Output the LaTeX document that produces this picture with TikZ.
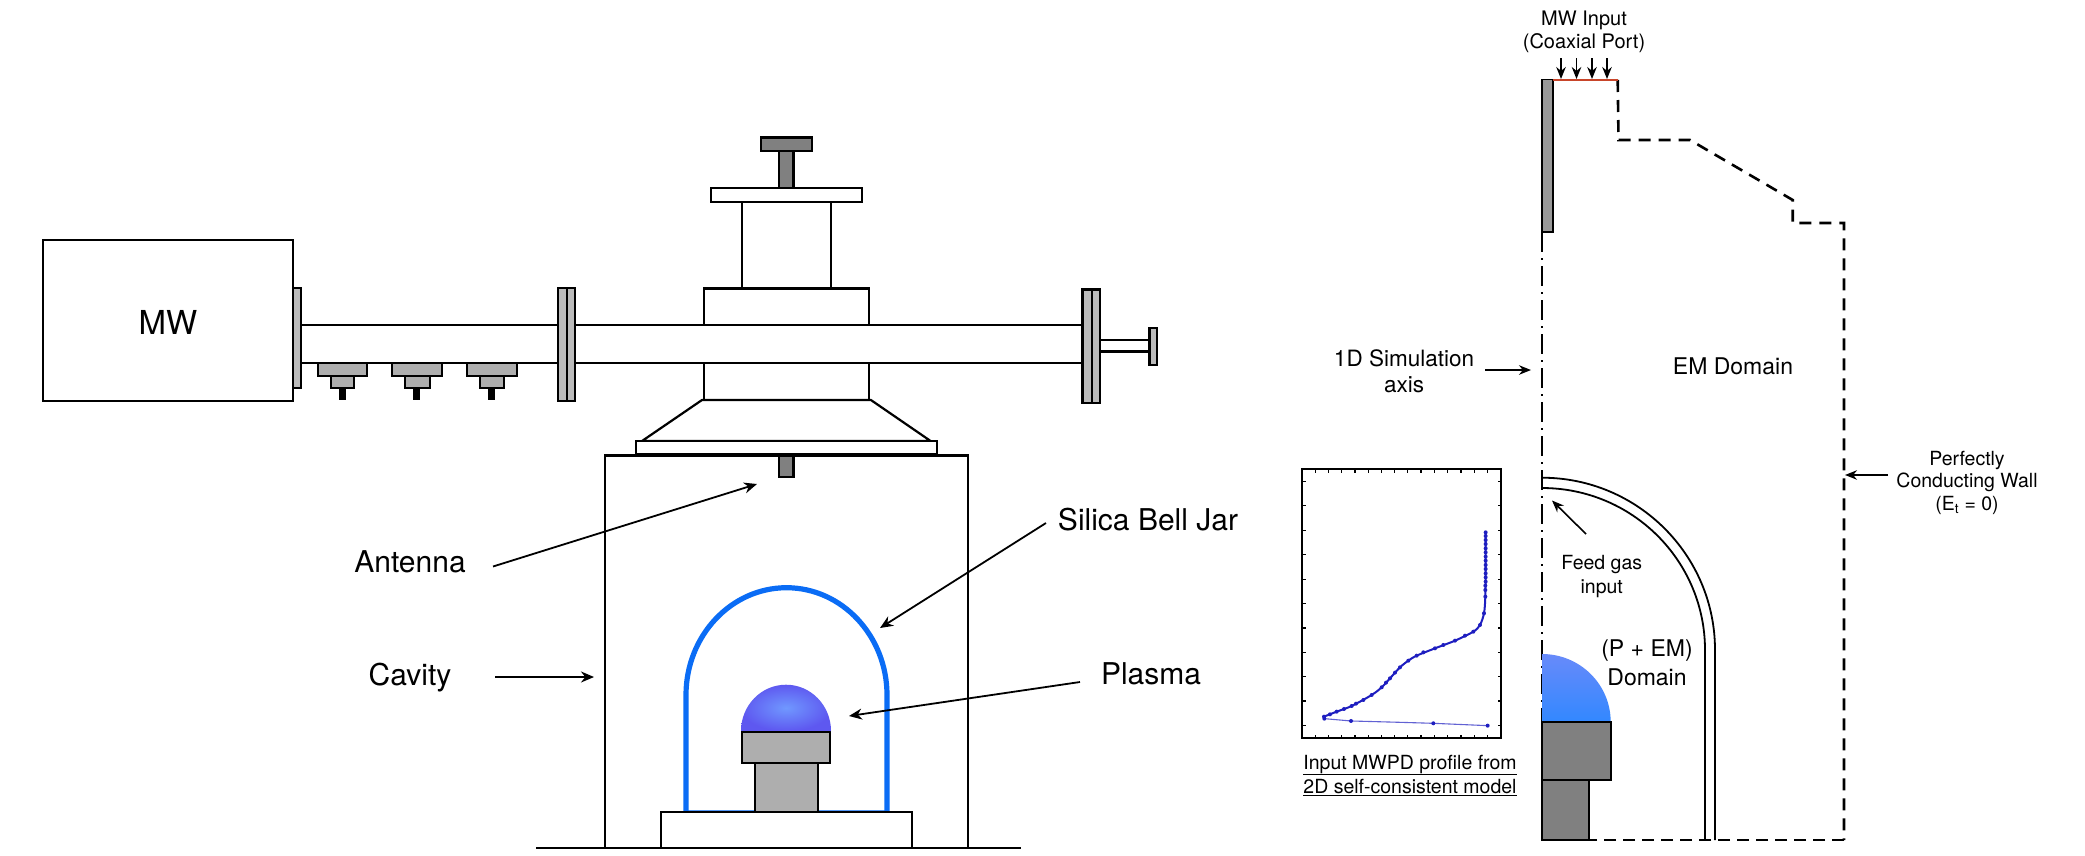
\documentclass[tikz,border=0pt]{standalone}
\usepackage{fontspec}
\setmainfont{TeX Gyre Heros}
\usetikzlibrary{arrows.meta}
\definecolor{jarblue}{HTML}{0A6CF5}
\definecolor{lightgrey}{HTML}{BBBBBB}
\definecolor{midgrey}{HTML}{AEAEAE}
\definecolor{darkgrey}{HTML}{808080}
\definecolor{bargrey}{HTML}{999999}
\definecolor{barred}{HTML}{C8452A}
\definecolor{curveblue}{HTML}{1E1EC0}
\definecolor{plasmain}{HTML}{7098FF}
\definecolor{plasmaout}{HTML}{5E58F0}
\definecolor{sectop}{HTML}{688AFA}
\definecolor{secbot}{HTML}{3288FF}
\tikzset{
  part/.style={draw=black,line width=2.2pt,fill=white,line join=miter},
  lgpart/.style={part,fill=lightgrey},
  mgpart/.style={part,fill=midgrey},
  dgpart/.style={part,fill=darkgrey},
  edgeline/.style={draw=black,line width=2.2pt},
  thinedge/.style={draw=black,line width=1.8pt},
  arrowline/.style={draw=black,line width=1.8pt,-{Stealth[length=13pt,width=11pt]}},
  smallarrow/.style={draw=black,line width=1.6pt,-{Stealth[length=12pt,width=9.5pt]}},
  wallline/.style={draw=black,line width=2.6pt,dash pattern=on 12pt off 8pt},
  axisline/.style={draw=black,line width=2pt,dash pattern=on 20pt off 6pt on 2pt off 6pt},
  tickline/.style={draw=black,line width=1.3pt},
  bigtext/.style={inner sep=0pt,font=\fontsize{30}{36}\selectfont},
  midtext/.style={inner sep=0pt,font=\fontsize{23}{27}\selectfont},
  smalltext/.style={inner sep=0pt,font=\fontsize{19.5}{24}\selectfont},
}
\begin{document}
\begin{tikzpicture}[x=1pt,y=-1pt]
\useasboundingbox (0,0) rectangle (2085,855);
\fill[white] (0,0) rectangle (2085,855);
% waveguide
\draw[edgeline] (301,325) -- (558,325) (575,325) -- (1082.4,325);
\draw[edgeline] (301,363) -- (558,363) (575,363) -- (1082.4,363);
% MW source
\draw[part] (43,240) rectangle (293,401);
\node[inner sep=0pt,font=\fontsize{33}{38}\selectfont] (mw) at (168,322) {MW};
\draw[lgpart,line width=1.5pt] (293,288) rectangle (301,388);
% flanges
\draw[lgpart] (558,288) rectangle (567,401);
\draw[lgpart] (567,288) rectangle (575,401);
\draw[lgpart] (1082.4,289.5) rectangle (1091.6,403);
\draw[lgpart] (1091.6,289.5) rectangle (1100,403);
% tuners
\foreach \a/\b/\c/\d/\e/\f in {318/367/331/354/339/346,392/442/405/430/413/420,467/517/480/504/488/495}{
  \draw[mgpart] (\a,363) rectangle (\b,376);
  \draw[mgpart] (\c,376) rectangle (\d,388);
  \fill[black] (\e,388) rectangle (\f,400);
}
% end stub
\draw[edgeline] (1100,340) -- (1149.4,340) (1100,351.5) -- (1149.4,351.5);
\draw[lgpart] (1149.4,328) rectangle (1157,365);
% top assembly
\draw[dgpart] (761,137.5) rectangle (812,151);
\draw[dgpart] (779,151) rectangle (793.5,188);
\draw[part] (710.7,188) rectangle (861.7,202);
\draw[edgeline] (742,202) -- (742,288.5);
\draw[draw=black,line width=1.1pt] (831,202) -- (831,288.5);
\draw[edgeline] (703.8,325) |- (868.6,288.5) -- (868.6,325);
\draw[edgeline] (703.8,363) -- (703.8,400) (868.6,363) -- (868.6,400);
\draw[edgeline] (702,400) -- (870.9,400) -- (930.6,441) -- (642,441) -- cycle;
\draw[part] (635.6,441) rectangle (936.8,454);
% cavity
\draw[edgeline] (605,848) -- (605,455.5) -- (968,455.5) -- (968,848);
\draw[dgpart] (779,456) rectangle (793.5,477);
% jar
\draw[draw=jarblue!70,line width=1.2pt] (686,811) -- (887,811);
\draw[draw=jarblue,line width=5.2pt] (686,811) -- (686,695)
  .. controls (686,635.9) and (731,587.7) .. (786.5,587.7)
  .. controls (842,587.7) and (887,635.9) .. (887,695) -- (887,811);
% base and ground
\draw[edgeline,line width=1.8pt] (661,848) -- (661,812) -- (912,812) -- (912,848);
\draw[edgeline] (536,848) -- (1021,848);
% pedestal
\draw[mgpart] (755,763) rectangle (818,812);
\draw[mgpart] (741.7,731.5) rectangle (830,763);
% plasma
\shade[inner color=plasmain,outer color=plasmaout]
  (741,731) .. controls (741,705.6) and (761,684.7) .. (786,684.7) .. controls (811,684.7) and (831,705.6) .. (831,731) -- cycle;
\draw[draw=black,line width=1.6pt] (741,731.5) -- (830,731.5);
% left labels and arrows
\node[bigtext] (antenna) at (410,562) {Antenna};
\node[bigtext] (cavity) at (410,678) {Cavity};
\node[bigtext] (silica) at (1148,520) {Silica Bell Jar};
\node[bigtext] (plasma) at (1151,674) {Plasma};
\coordinate (antS) at (493,566.5); \coordinate (antE) at (757,484);
\coordinate (cavS) at (495,677); \coordinate (cavE) at (594,677);
\coordinate (silS) at (1046,523); \coordinate (silE) at (880,628);
\coordinate (plaS) at (1080,682); \coordinate (plaE) at (849,716);
\draw[arrowline] (antS) -- (antE);
\draw[arrowline] (cavS) -- (cavE);
\draw[arrowline] (silS) -- (silE);
\draw[arrowline] (plaS) -- (plaE);

% ---- right part ----
\node[smalltext,font=\fontsize{20}{24}\selectfont] (mwin) at (1584,20) {MW Input};
\node[smalltext,font=\fontsize{20}{24}\selectfont] (coax) at (1584,43) {(Coaxial Port)};
\foreach \i/\x in {1/1561,2/1576.5,3/1592,4/1607}{
  \coordinate (inS\i) at (\x,58); \coordinate (inE\i) at (\x,79);
  \draw[smallarrow] (inS\i) -- (inE\i);
}
\draw[axisline] (1542,232) -- (1542,722);
\draw[wallline] (1617.7,80) -- (1618.5,140) -- (1690,140) -- (1792.7,200) -- (1792.7,223) -- (1844,223) -- (1844,840);
\draw[draw=black,line width=1.5pt,fill=bargrey] (1542,79.5) rectangle (1553,232);
\draw[draw=barred,line width=2pt] (1553,80) -- (1617.7,80);
% bell jar section
\draw[thinedge] (1542,477.7) .. controls (1637.5,477.7) and (1715,555) .. (1715,650) -- (1715,840);
\draw[thinedge] (1542,488) .. controls (1632,488) and (1705,560.5) .. (1705,650) -- (1705,840);
% plasma section
\shade[top color=sectop,bottom color=secbot]
  (1542,722) -- (1542,654) .. controls (1580,654) and (1610.7,684.4) .. (1610.7,722) -- cycle;
\draw[part,fill=darkgrey] (1542,722) rectangle (1611,780);
\draw[part,fill=darkgrey] (1542,780) rectangle (1589,840);
\draw[wallline,dash pattern=on 12pt off 7pt] (1844,840) -- (1542,840);
% right labels
\node[midtext] (em) at (1733,366) {EM Domain};
\node[midtext,font=\fontsize{22.5}{27}\selectfont] (sim1) at (1404,358) {1D Simulation};
\node[midtext,font=\fontsize{22.5}{27}\selectfont] (sim2) at (1404,385) {axis};
\coordinate (simS) at (1485,370); \coordinate (simE) at (1531,370);
\draw[smallarrow] (simS) -- (simE);
\node[smalltext] (wall1) at (1967,460) {Perfectly};
\node[smalltext] (wall2) at (1967,482.5) {Conducting Wall};
\node[smalltext] (wall3) at (1967,505) {(E\textsubscript{t} = 0)};
\coordinate (wallS) at (1888,475); \coordinate (wallE) at (1845,475);
\draw[smallarrow] (wallS) -- (wallE);
\coordinate (feedS) at (1586,534); \coordinate (feedE) at (1552,500.5);
\draw[smallarrow] (feedS) -- (feedE);
\node[smalltext] (feed1) at (1601.7,565) {Feed gas};
\node[smalltext] (feed2) at (1601.7,589) {input};
\node[midtext] (pem1) at (1647,651) {(P + EM)};
\node[midtext] (pem2) at (1647,677) {Domain};
% plot
\draw[draw=black,line width=2pt] (1302,469) rectangle (1501,738);
\foreach \x in {106,145,185,225,265,304,343,383,423,463,503,543,583,623}{
  \draw[tickline] (1280+\x/3,738) -- (1280+\x/3,734.5);
  \draw[tickline] (1280+\x/3,469) -- (1280+\x/3,472.5);
}
\foreach \y in {94,167,241,314,388,461,534,607,680,753,827}{
  \draw[tickline] (1302,450+\y/3) -- (1305.5,450+\y/3);
  \draw[tickline] (1501,450+\y/3) -- (1497.5,450+\y/3);
}
\begin{scope}[shift={(1280,450)},x=0.3333pt,y=-0.3333pt]
\draw[draw=curveblue,line width=2pt,line join=round] plot[smooth,tension=0.5] coordinates {(617,247) (617,340) (616,440) (612,490) (600,525) (580,545) (525,572) (465,595) (410,617) (385,632) (360,652) (330,685) (305,712) (275,735) (215,768) (170,785) (132,800)};
\draw[draw=curveblue!70!white,line width=1.1pt] (132,800) -- (133,806) -- (213,813) -- (360,817) -- (460,820) -- (623,827);
\foreach \x/\y in {617/247,617/258,617/270,617/282,617/295,617/307,617/320,617/332,617/345,617/357,617/370,617/382,617/395,616/407,616/420,616/440,612/490,600/525,580/545,555/557,525/572,490/585,465/595,430/607,410/617,385/632,360/652,345/668,330/685,318/698,305/712,275/735,250/750,228/761,215/768,192/777,170/785,150/793,132/800,133/806,213/813,460/820,623/827}{
  \fill[curveblue] (\x,\y) circle[radius=6];
}
\end{scope}
\node[smalltext] (cap1) at (1410,765) {\underline{Input MWPD profile from}};
\node[smalltext] (cap2) at (1410,787.5) {\underline{2D self-consistent model}};
\end{tikzpicture}
\end{document}
